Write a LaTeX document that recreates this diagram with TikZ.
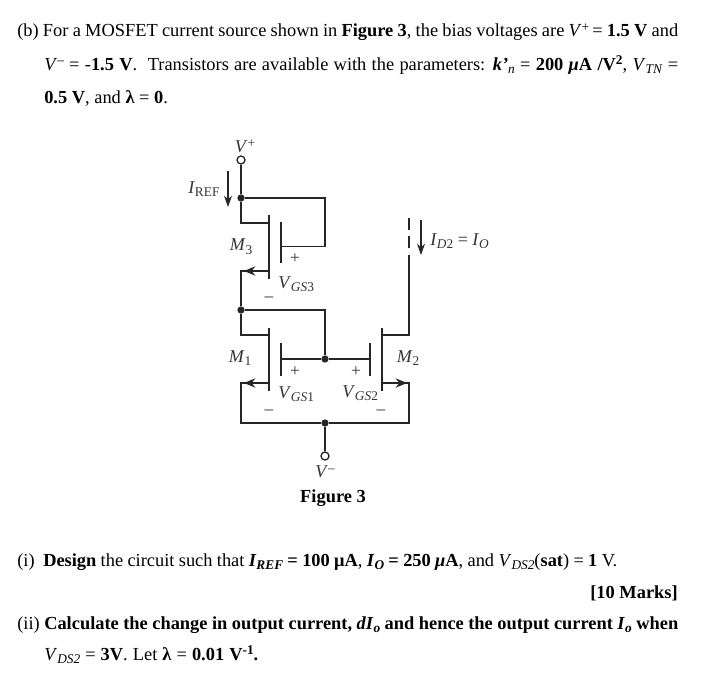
\documentclass[tikz,border=0pt]{standalone}
\usepackage{fontspec}
\setmainfont{Liberation Serif}
\usetikzlibrary{positioning,calc,arrows.meta}

\newcommand{\lowtxt}[1]{\raisebox{-0.45ex}{\fontsize{10}{11}\selectfont #1}}
\newcommand{\hightxt}[1]{\raisebox{0.6ex}{\fontsize{10}{11}\selectfont #1}}

\tikzset{
    wire/.style={line width=1.3pt, draw=black!85},
    barline/.style={line width=2.1pt, draw=black!85},
    srctip/.style={wire, -{Stealth[length=8.5pt,width=7pt]}},
    curtip/.style={line width=1pt, draw=black!85, -{Stealth[length=8.5pt,width=6pt]}},
    dotnode/.style={circle, fill=black!85, inner sep=0pt, minimum size=5.5pt},
    termnode/.style={circle, draw=black!85, line width=1pt, fill=white, inner sep=0pt, minimum size=6pt},
    textline/.style={anchor=base west, inner sep=0pt, font=\fontsize{13.8}{16}\selectfont},
    cktlabel/.style={inner sep=0pt, text=black!80, font=\fontsize{13.5}{15}\selectfont},
    signlabel/.style={inner sep=0pt, text=black!80, font=\fontsize{13}{15}\selectfont},
}

\begin{document}
\begin{tikzpicture}[x=0.75pt, y=-0.75pt]
    \useasboundingbox (0,0) rectangle (709,674);

    % Question text
    \node[textline] (lineA) at (17,37) {\makebox[495.75pt][s]{(b) For a MOSFET current source shown in \textbf{Figure 3}, the bias voltages are \textit{V}\hightxt{+}\,= \textbf{1.5 V} and}};
    \node[textline] (lineB) at (44,70) {\makebox[475.5pt][s]{\textit{V}\hightxt{--} = -\textbf{1.5 V}.\ \ Transistors are available with the parameters: \textbf{\textit{k'}}\lowtxt{\textit{n}} = \textbf{200 \textit{μ}A /V\hightxt{2}}, \textit{V}\lowtxt{\textit{TN}} =}};
    \node[textline] (lineC) at (44,103) {\textbf{0.5 V}, and \textbf{λ} = \textbf{0}.};
    \node[textline] (lineD) at (17,566) {\makebox[450pt][s]{(i) \ \textbf{Design} the circuit such that \textbf{\textit{I}\lowtxt{\textit{REF}} = 100 μA}, \textbf{\textit{I}\lowtxt{\textit{O}} = 250 \textit{μ}A}, and \textit{V}\lowtxt{\textit{DS2}}(\textbf{sat}) = \textbf{1} V.}};
    \node[textline, anchor=base east] (lineE) at (678,598) {\textbf{[10 Marks]}};
    \node[textline] (lineF) at (17,629) {\makebox[495.75pt][s]{(ii) \textbf{Calculate the change in output current, \textit{dI}\lowtxt{\textit{o}} and hence the output current \textit{I}\lowtxt{\textit{o}} when}}};
    \node[textline] (lineG) at (44,660) {\makebox[160.5pt][s]{\textit{V}\lowtxt{\textit{DS2}} = \textbf{3V}. Let \textbf{λ} = \textbf{0.01 V\hightxt{-1}.}}};

    % Rails and junctions
    \node[termnode] (vpos) at (241,160) {};
    \node[dotnode] (top) at (241,198) {};
    \node[dotnode] (mid) at (241,310) {};
    \node[dotnode] (gate) at (325,359) {};
    \node[dotnode] (bot) at (325,423) {};
    \node[termnode] (vneg) at (325,456) {};

    % Corner points
    \coordinate (g3r) at (325,246.5);
    \coordinate (g3b) at (281,222);
    \coordinate (g3e) at (281,263);
    \coordinate (g3in) at (281,246.5);
    \coordinate (g1b) at (281,343);
    \coordinate (g1e) at (281,376);
    \coordinate (g1in) at (281,359);
    \coordinate (g2b) at (370,343);
    \coordinate (g2e) at (370,376);
    \coordinate (g2in) at (370,359);
    \coordinate (c3b) at (269,215);
    \coordinate (c3e) at (269,279);
    \coordinate (c1b) at (269,328);
    \coordinate (c1e) at (269,391);
    \coordinate (c2b) at (382,328);
    \coordinate (c2e) at (382,391);
    \coordinate (d3) at (269,223);
    \coordinate (s3) at (269,271);
    \coordinate (tip3) at (244,271);
    \coordinate (d1) at (269,335);
    \coordinate (s1) at (269,383);
    \coordinate (tip1) at (244,383);
    \coordinate (d2) at (382,335);
    \coordinate (s2) at (382,383);
    \coordinate (tip2) at (407,383);
    \coordinate (outa) at (409,267);
    \coordinate (outb) at (409,216);
    \coordinate (botl) at (241,423);
    \coordinate (botr) at (409,423);

    % Channel and gate bars
    \foreach \a/\b in {c3b/c3e, c1b/c1e, c2b/c2e, g3b/g3e, g1b/g1e, g2b/g2e} {
        \draw[barline] (\a) -- (\b);
    }

    % Wiring
    \draw[wire] (vpos) -- (top);
    \draw[wire] (top) -| (g3r) -- (g3in);
    \draw[wire] (top) |- (d3);
    \draw[wire] (s3) -| (mid);
    \draw[wire] (mid) -| (gate);
    \draw[wire] (mid) |- (d1);
    \draw[wire] (g1in) -- (gate);
    \draw[wire] (gate) -- (g2in);
    \draw[wire] (s1) -| (botl) -- (bot);
    \draw[wire] (s2) -| (botr) -- (bot);
    \draw[wire] (d2) -| (outa);
    \draw[wire, dash pattern=on 9pt off 5pt] (outa) -- (outb);
    \draw[wire] (bot) -- (vneg);

    % Source arrows
    \foreach \a/\b in {s3/tip3, s1/tip1, s2/tip2} {
        \draw[srctip] (\a) -- (\b);
    }

    % Currents
    \coordinate (refa) at (228,171);
    \coordinate (refb) at (228,207);
    \coordinate (ioa) at (421,220);
    \coordinate (iob) at (421,255);
    \draw[curtip] (refa) -- (refb);
    \draw[curtip] (ioa) -- (iob);

    % Labels
    \node[cktlabel] (lblvpos) at (245,146) {\textit{V}\hightxt{+}};
    \node[cktlabel] (lblvneg) at (325,472) {\textit{V}\hightxt{--}};
    \node[cktlabel, anchor=base west] (lblref) at (188,193) {\textit{I}\lowtxt{REF}};
    \node[cktlabel, anchor=base west] (lblio) at (430,245) {\textit{I}\lowtxt{\textit{D}2} = \textit{I}\lowtxt{\textit{O}}};
    \node[cktlabel] (lblm3) at (241,247) {\textit{M}\lowtxt{3}};
    \node[cktlabel] (lblm1) at (240,358) {\textit{M}\lowtxt{1}};
    \node[cktlabel] (lblm2) at (408,358) {\textit{M}\lowtxt{2}};
    \node[cktlabel, anchor=base west] (lblv3) at (278,288) {\textit{V}\lowtxt{\textit{GS}3}};
    \node[cktlabel, anchor=base west] (lblv1) at (278,398) {\textit{V}\lowtxt{\textit{GS}1}};
    \node[cktlabel, anchor=base west] (lblv2) at (342,397) {\textit{V}\lowtxt{\textit{GS}2}};

    % Polarity signs
    \foreach \x/\y/\t/\n in {295/259/+/pa, 269/299/--/ma, 295/372/+/pb, 269/412/--/mb, 356/372/+/pc, 381/412/--/mc} {
        \node[signlabel] (\n) at (\x,\y) {\t};
    }

    % Caption
    \node[textline, anchor=base] (caption) at (333,502) {\textbf{Figure 3}};
\end{tikzpicture}
\end{document}
